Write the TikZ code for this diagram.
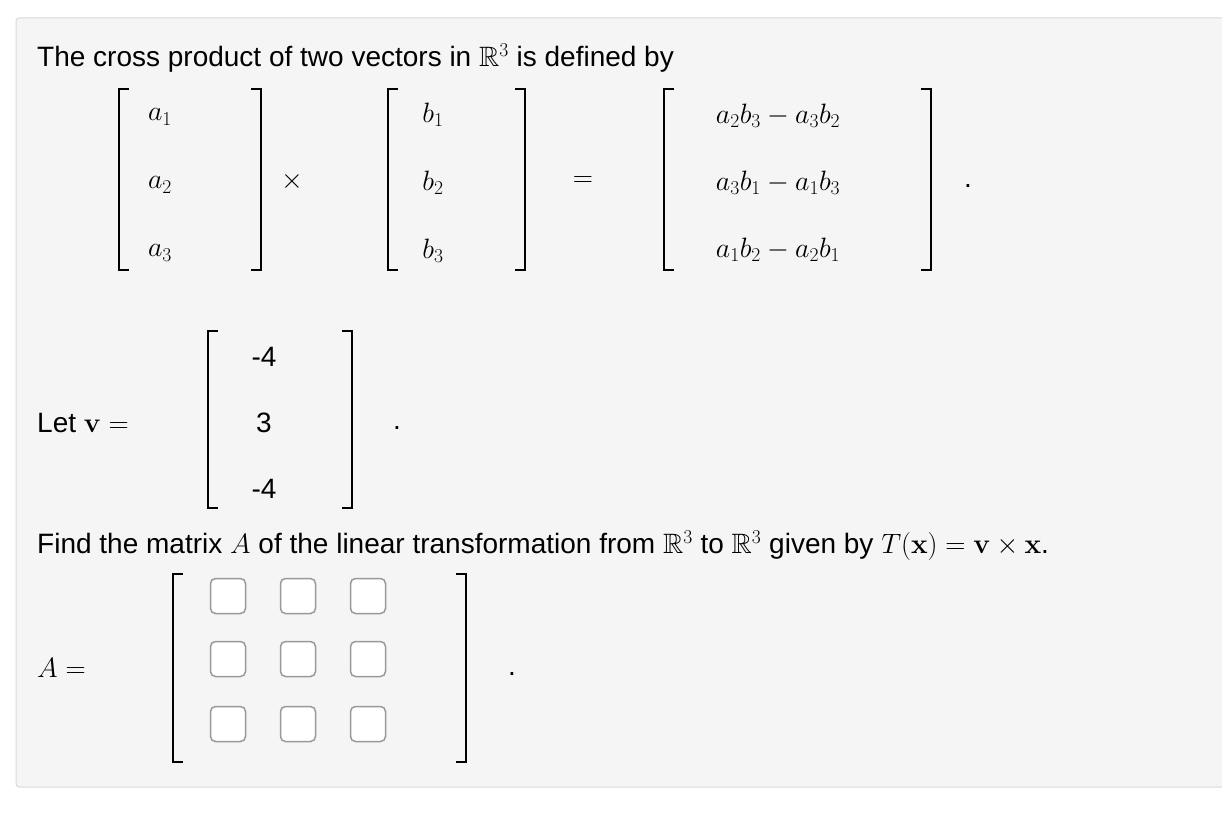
\documentclass[tikz,border=0pt]{standalone}
\usepackage{fix-cm}
\usepackage{amssymb,amsmath}
\usepackage[no-math]{fontspec}
\setmainfont{Liberation Sans}
\begin{document}
\begin{tikzpicture}[x=1pt,y=-1pt,
  txt/.style={anchor=west,inner sep=0pt,font=\fontsize{28}{32}\selectfont},
  ent/.style={inner sep=0pt,font=\fontsize{28}{32}\selectfont},
  brk/.style={line width=2pt,draw=black},
  inbox/.style={draw=gray!80,line width=1.5pt,fill=white,rounded corners=5pt,minimum width=35pt,minimum height=35pt,inner sep=0pt}]
\useasboundingbox (0,0) rectangle (1222,834);
\draw[draw=gray!30,fill=gray!8,line width=1pt,rounded corners=3pt] (16,18) rectangle (1240,787);
\node[txt] (t1) at (37,58) {The cross product of two vectors in $\mathbb{R}^3$ is defined by};
\newcommand{\Lbr}[4]{\draw[brk] (#1+10,#2) -- (#1,#2) -- (#1,#3) -- (#1+10,#3);}
\newcommand{\Rbr}[4]{\draw[brk] (#1-10,#2) -- (#1,#2) -- (#1,#3) -- (#1-10,#3);}
\Lbr{119}{89}{270}{}\Rbr{261}{89}{270}{}
\node[ent] (a1) at (160,117) {$a_1$};
\node[ent] (a2) at (160,185) {$a_2$};
\node[ent] (a3) at (160,253) {$a_3$};
\node[ent] (x) at (292,182) {$\times$};
\Lbr{388}{89}{270}{}\Rbr{525}{89}{270}{}
\node[ent] (b1) at (433,115) {$b_1$};
\node[ent] (b2) at (433,183) {$b_2$};
\node[ent] (b3) at (433,251) {$b_3$};
\node[ent] (eq) at (583,182) {$=$};
\Lbr{664}{89}{270}{}\Rbr{931}{89}{270}{}
\node[ent] (c1) at (778,116) {$a_2b_3-a_3b_2$};
\node[ent] (c2) at (778,183) {$a_3b_1-a_1b_3$};
\node[ent] (c3) at (778,250) {$a_1b_2-a_2b_1$};
\node[ent] (p1) at (968,186) {.};
\node[txt] (let) at (37,423) {Let $\mathbf{v}=$};
\Lbr{208}{331}{508}{}\Rbr{352}{331}{508}{}
\node[ent] (v1) at (264,357) {-4};
\node[ent] (v2) at (264,423) {3};
\node[ent] (v3) at (264,489) {-4};
\node[ent] (p2) at (397,428) {.};
\node[txt] (find) at (37,546) {Find the matrix $A$ of the linear transformation from $\mathbb{R}^3$ to $\mathbb{R}^3$ given by $T(\mathbf{x})=\mathbf{v}\times\mathbf{x}$.};
\node[txt] (Aeq) at (37,668) {$A=$};
\Lbr{173}{574}{762}{}\Rbr{466}{574}{762}{}
\foreach \r/\yy in {1/596,2/659,3/724}{
  \foreach \c/\xx in {1/228,2/298,3/368}{
    \node[inbox] (m\r\c) at (\xx,\yy) {};
  }}
\node[ent] (p3) at (512,674) {.};
\end{tikzpicture}
\end{document}
